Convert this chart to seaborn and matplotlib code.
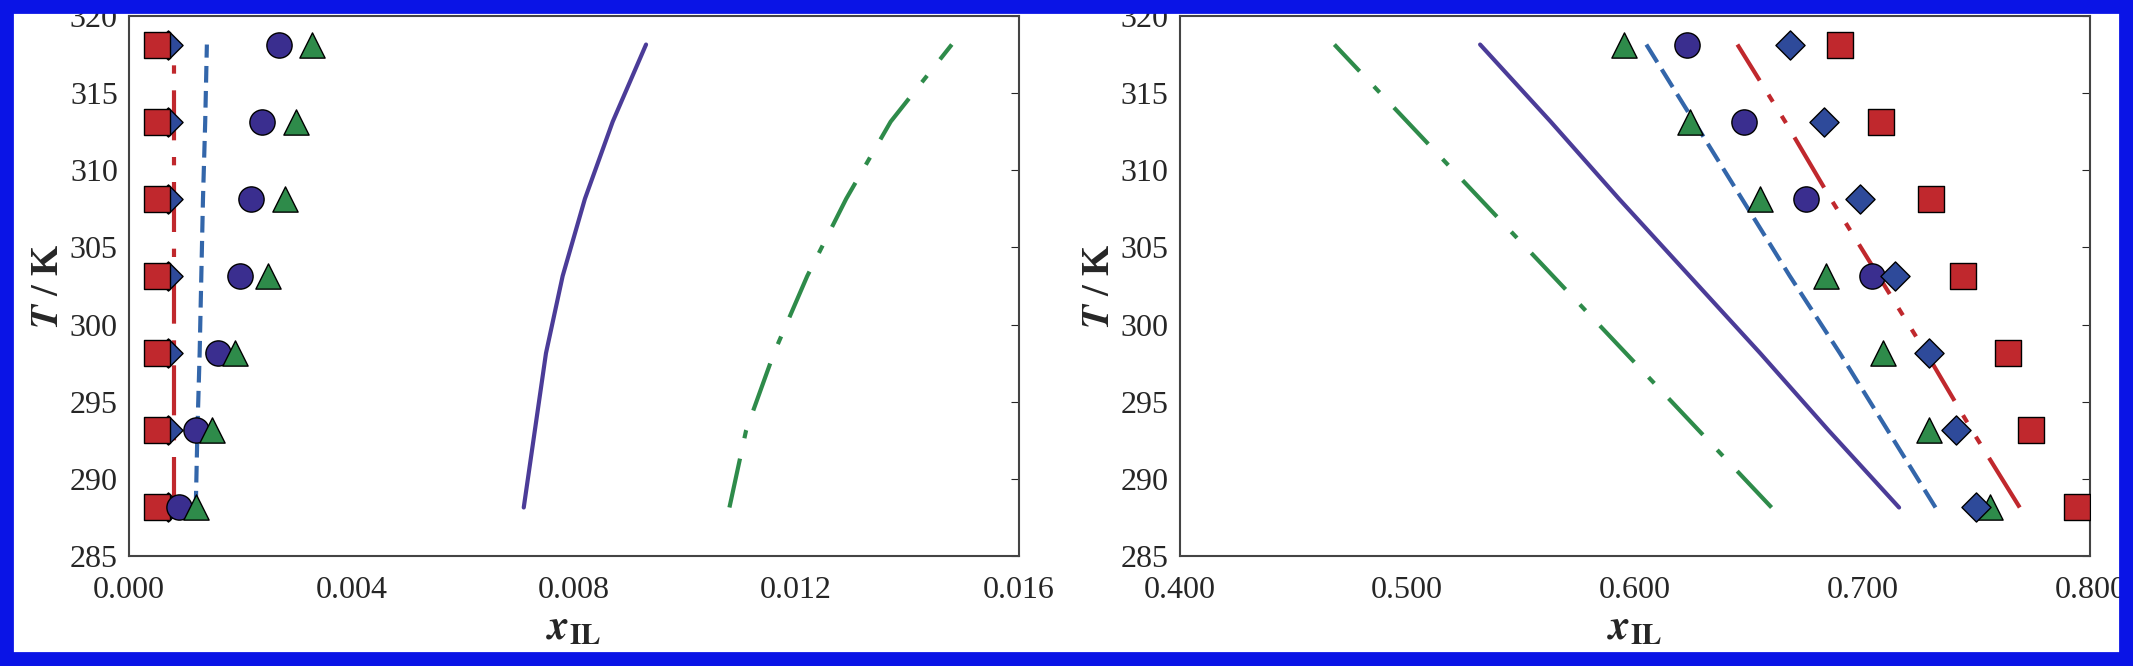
import numpy as np
import pandas as pd
import matplotlib
matplotlib.use("Agg")
import matplotlib.pyplot as plt
import seaborn as sns
from matplotlib.patches import Rectangle

sns.set_style("white")
plt.rcParams['font.family'] = ['Liberation Serif', 'DejaVu Serif']
plt.rcParams['mathtext.fontset'] = 'stix'

T = [288.15, 293.15, 298.15, 303.15, 308.15, 313.15, 318.15]
T4 = [303.15, 308.15, 313.15, 318.15]

# Left panel (IL-poor phase)
L_square = [0.0005] * 7
L_diamond = [0.0007] * 7
L_circle = [0.0009, 0.0012, 0.0016, 0.0020, 0.0022, 0.0024, 0.0027]
L_triangle = [0.0012, 0.0015, 0.0019, 0.0025, 0.0028, 0.0030, 0.0033]
L_red = [0.0008] * 7
L_blue = [0.0012, 0.00123, 0.00127, 0.0013, 0.00133, 0.00137, 0.0014]
L_purple = [0.0071, 0.0073, 0.0075, 0.0078, 0.0082, 0.0087, 0.0093]
L_green = [0.0108, 0.0111, 0.0116, 0.0122, 0.0129, 0.0137, 0.0148]

# Right panel (IL-rich phase)
R_triangle = [0.756, 0.729, 0.709, 0.684, 0.655, 0.624, 0.595]
R_circle = [0.704, 0.675, 0.648, 0.623]
R_diamond = [0.750, 0.741, 0.729, 0.714, 0.699, 0.683, 0.668]
R_square = [0.794, 0.774, 0.764, 0.744, 0.730, 0.708, 0.690]
R_green = [0.660, 0.628, 0.596, 0.564, 0.532, 0.500, 0.468]
R_purple = [0.716, 0.685, 0.655, 0.624, 0.593, 0.563, 0.532]
R_blue = [0.732, 0.711, 0.690, 0.668, 0.647, 0.626, 0.605]
R_red = [0.769, 0.748, 0.728, 0.707, 0.686, 0.666, 0.645]

RED = '#C0282D'; DBLUE = '#2E4A9A'; PURP = '#3A2E8F'; GREEN = '#2E8B4A'; LBLUE = '#3366AA'; LPURP = '#4B3C98'

fig = plt.figure(figsize=(21.33, 6.66), dpi=100)
axL = fig.add_axes([0.0605, 0.165, 0.417, 0.811])
axR = fig.add_axes([0.553, 0.165, 0.427, 0.811])

def lines(ax, xs, styles):
    for x, (c, ls) in zip(xs, styles):
        sns.lineplot(x=x, y=T, ax=ax, color=c, lw=3, sort=False, estimator=None)
        if ls:
            ax.lines[-1].set_dashes(ls)

def pts(ax, x, y, m, c, s):
    sns.scatterplot(x=x, y=y, ax=ax, marker=m, color=c, s=s, edgecolor='black', linewidth=1, zorder=5)

lines(axL, [L_red, L_blue, L_purple, L_green],
      [(RED, [12, 4, 2, 4]), (LBLUE, [4, 2]), (LPURP, None), (GREEN, [12, 5, 2, 5])])
pts(axL, L_diamond, T, 'D', DBLUE, 220)
pts(axL, L_square, T, 's', RED, 330)
pts(axL, L_circle, T, 'o', PURP, 330)
pts(axL, L_triangle, T, '^', GREEN, 330)

lines(axR, [R_green, R_purple, R_blue, R_red],
      [(GREEN, [12, 5, 2, 5]), (LPURP, None), (LBLUE, [5, 2]), (RED, [14, 4, 2, 4, 2, 4])])
pts(axR, R_triangle, T, '^', GREEN, 330)
pts(axR, R_circle, T4, 'o', PURP, 330)
pts(axR, R_diamond, T, 'D', DBLUE, 220)
pts(axR, R_square, T, 's', RED, 330)

for ax, xl, xt in [(axL, (0, 0.016), np.arange(0, 0.0161, 0.004)),
                   (axR, (0.4, 0.8), np.arange(0.4, 0.801, 0.1))]:
    ax.set_xlim(*xl); ax.set_ylim(285, 320)
    ax.set_xticks(xt); ax.set_xticklabels(['{:.3f}'.format(v) for v in xt])
    ax.set_yticks(range(285, 321, 5))
    ax.tick_params(direction='in', right=True, labelsize=23, length=6)
    ax.tick_params(axis='x', pad=14)
    ax.tick_params(axis='y', pad=8)
    for s in ax.spines.values():
        s.set_color('#444444'); s.set_linewidth(1.5)
    ax.set_xlabel(r'$\boldsymbol{x}_{\mathbf{IL}}$', fontsize=30, labelpad=4)
    ax.set_ylabel(r'$\boldsymbol{T}$ / K', fontsize=28, fontweight='bold', labelpad=2)
    if ax.legend_:
        ax.legend_.remove()

fig.patches.append(Rectangle((0, 0), 1, 1, transform=fig.transFigure, fill=False,
                             edgecolor='#0A14E6', lw=20, zorder=100))
fig.savefig('out.png', dpi=100, facecolor='white')
